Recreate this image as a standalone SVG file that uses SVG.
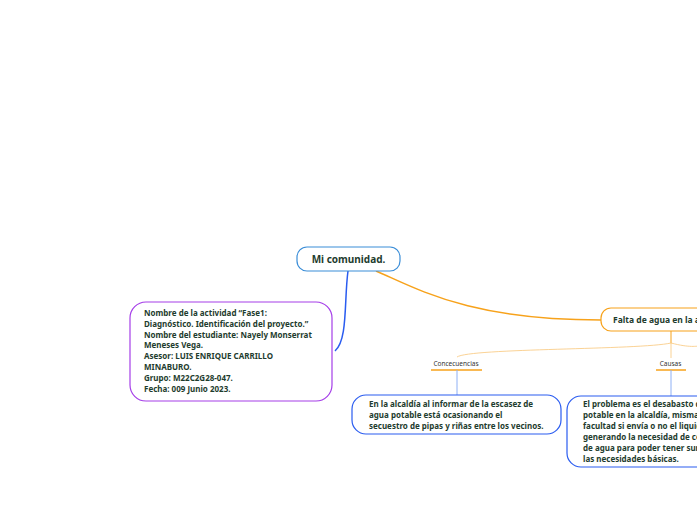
<svg xmlns="http://www.w3.org/2000/svg" width="697" height="520" viewBox="0 0 697 520">
<style>
text{font-family:"Noto Sans","Open Sans",sans-serif;fill:#1e3c2e;font-weight:bold;font-size:8px}
.lbl{font-weight:normal;font-size:6.5px;fill:#333}
.box{fill:#fff;stroke-width:1.2}
</style>
<rect width="697" height="520" fill="#fff"/>
<g id="connectors" fill="none">
<path d="M376,271 C420,290 470,320 601,320" stroke="#f7a21b" stroke-width="1.5"/>
<path d="M348,271 C344,300 348,340 335,351" stroke="#2a5cf0" stroke-width="1.5"/>
<path d="M671,331 L671,343" stroke="#f7a21b" stroke-width="1"/>
<path d="M671,343 C640,350 470,348 457,357 M671,343 L671,358 M671,343 C690,348 697,346 700,346" stroke="#f9c77a" stroke-width="0.8"/>
<path d="M431,370 L482,370 M656,370 L686,370" stroke="#f7a21b" stroke-width="1.5"/>
<path d="M457,370 L457,395 M671,370 L671,396" stroke="#8eb0f5" stroke-width="1"/>
</g>
<g id="root"><rect class="box" x="297" y="247" width="103" height="24" rx="10" stroke="#3b8ed8"/><text x="348.5" y="263" text-anchor="middle" style="font-size:10px">Mi comunidad.</text></g>
<g id="info"><rect class="box" x="130" y="302" width="202" height="99" rx="16" stroke="#a53ee8"/>
<text x="144" y="316"><tspan x="144">Nombre de la actividad “Fase1:</tspan><tspan x="144" dy="10.8">Diagnóstico. Identificación del proyecto.”</tspan><tspan x="144" dy="10.8">Nombre del estudiante: Nayely Monserrat</tspan><tspan x="144" dy="10.8">Meneses Vega.</tspan><tspan x="144" dy="10.8">Asesor: LUIS ENRIQUE CARRILLO</tspan><tspan x="144" dy="10.8">MINABURO.</tspan><tspan x="144" dy="10.8">Grupo: M22C2G28-047.</tspan><tspan x="144" dy="10.8">Fecha: 009 Junio 2023.</tspan></text></g>
<g id="falta"><rect class="box" x="601" y="308" width="130" height="23" rx="10" stroke="#f7a21b"/><text x="613" y="323" style="font-size:8.5px">Falta de agua en la alcaldía.</text></g>
<g id="concecuencias"><text class="lbl" x="456" y="366" text-anchor="middle">Concecuencias</text></g>
<g id="causas"><text class="lbl" x="670.5" y="366" text-anchor="middle">Causas</text></g>
<g id="box1"><rect class="box" x="352" y="395" width="209" height="39" rx="14" stroke="#2a5cf0"/>
<text><tspan x="369" y="407">En la alcaldía al informar de la escasez de</tspan><tspan x="369" dy="11">agua potable está ocasionando el</tspan><tspan x="369" dy="11">secuestro de pipas y riñas entre los vecinos.</tspan></text></g>
<g id="box2"><rect class="box" x="567" y="396" width="180" height="71" rx="14" stroke="#2a5cf0"/>
<text><tspan x="583" y="407">El problema es el desabasto de agua</tspan><tspan x="583" dy="11">potable en la alcaldía, misma que</tspan><tspan x="583" dy="11">facultad si envía o  no el liquido</tspan><tspan x="583" dy="11">generando la necesidad de compra</tspan><tspan x="583" dy="11">de agua para poder tener surtir</tspan><tspan x="583" dy="11">las necesidades básicas.</tspan></text></g>
</svg>
